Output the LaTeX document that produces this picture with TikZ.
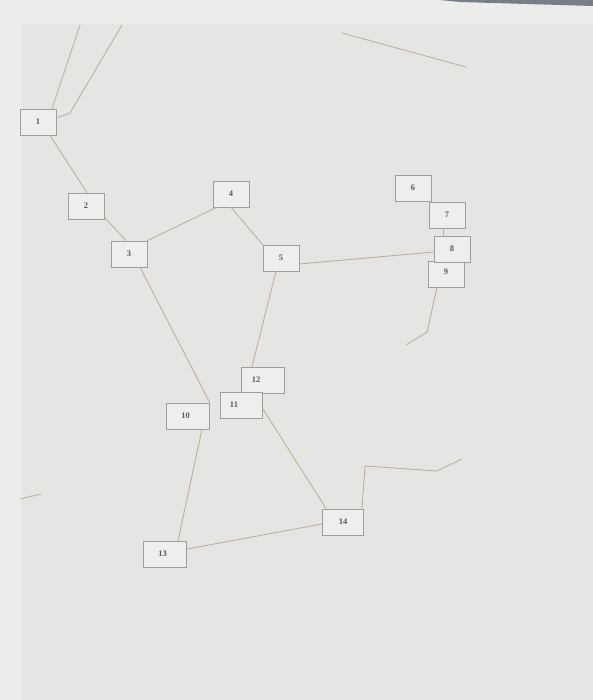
\documentclass[tikz,border=0pt]{standalone}
\usepackage{fontspec}
\setmainfont{Liberation Serif}
\definecolor{wall}{RGB}{236,236,234}
\definecolor{sheet}{RGB}{229,230,228}
\definecolor{boxfill}{RGB}{238,238,236}
\definecolor{boxline}{RGB}{158,158,156}
\definecolor{edgeline}{RGB}{190,176,160}
\definecolor{bezel}{RGB}{118,126,138}
\begin{document}
\begin{tikzpicture}[x=1pt,y=-1pt,
   nbox/.style={draw=boxline,fill=boxfill,line width=0.6pt,minimum width=36pt,minimum height=26pt,inner sep=0pt,font=\fontsize{8.5}{9}\selectfont\bfseries,text=black!65},
   wbox/.style={nbox,minimum width=43pt},
   edge/.style={draw=edgeline,line width=0.9pt}]
   \useasboundingbox (0,0) rectangle (593,700);
   \fill[wall] (0,0) rectangle (593,700);
   \fill[sheet] (22,24) rectangle (593,700);
   \fill[bezel] (440,0)--(593,0)--(593,6)--(460,2)-- cycle;
   \coordinate (s1) at (342,33);
   \coordinate (s2) at (466,67);
   \coordinate (s3) at (20,499);
   \coordinate (s4) at (41,494);
   \coordinate (t1) at (80,25);
   \coordinate (t2) at (70,113);
   \coordinate (t3) at (122,25);
   \coordinate (t9a) at (427,332);
   \coordinate (t9b) at (406,345);
   \coordinate (t14a) at (365,466);
   \coordinate (t14b) at (437,471);
   \coordinate (t14c) at (462,459);
   \node[nbox] (n1) at (38,122) {1};
   \node[nbox] (n2) at (86,206) {2};
   \node[nbox] (n3) at (129,254) {3};
   \node[nbox] (n4) at (231,194) {4};
   \node[nbox] (n5) at (281,258) {5};
   \node[nbox] (n6) at (413,188) {6};
   \node[nbox] (n7) at (447,215) {7};
   \node[nbox] (n9) at (446,274) {\raisebox{5pt}{9}};
   \node[nbox] (n8) at (452,249) {8};
   \node[wbox] (n10) at (188,416) {\hspace*{-5pt}10};
   \node[wbox] (n12) at (263,380) {\hspace*{-14pt}12};
   \node[wbox,minimum width=42pt] (n11) at (241,405) {\hspace*{-14pt}11};
   \node[wbox] (n13) at (165,554) {\hspace*{-5pt}13};
   \node[wbox,minimum width=41pt] (n14) at (343,522) {14};
   \draw[edge] (s1)--(s2);
   \draw[edge] (s3)--(s4);
   \draw[edge] ([xshift=14pt]n1.north)--(t1);
   \draw[edge] ([yshift=4pt]n1.east)--(t2)--(t3);
   \draw[edge] ([xshift=12pt]n1.south)--([xshift=1pt]n2.north);
   \draw[edge] ([yshift=-11pt]n2.east)--([xshift=-3pt]n3.north);
   \draw[edge] (n3.north east)--([xshift=4pt]n4.south west);
   \draw[edge] (n4.south)--(n5.north west);
   \draw[edge] ([xshift=11pt]n3.south)--(n10.north east);
   \draw[edge] ([xshift=-5pt]n5.south)--([xshift=-11pt]n12.north);
   \draw[edge] ([yshift=-6pt]n5.east)--([yshift=-3pt]n8.west);
   \draw[edge] (n6.south east)--(n7.north west);
   \draw[edge] ([xshift=-4pt]n7.south)--([xshift=-9pt]n8.north);
   \draw[edge] ([xshift=-9pt]n9.south)--(t9a)--(t9b);
   \draw[edge] ([xshift=14pt]n10.south)--([xshift=13pt]n13.north);
   \draw[edge] ([yshift=-3pt]n11.east)--([xshift=4pt]n14.north west);
   \draw[edge] ([yshift=5pt]n13.east)--([yshift=-2pt]n14.west);
   \draw[edge] ([xshift=19pt]n14.north)--(t14a)--(t14b)--(t14c);
  \end{tikzpicture}
\end{document}
